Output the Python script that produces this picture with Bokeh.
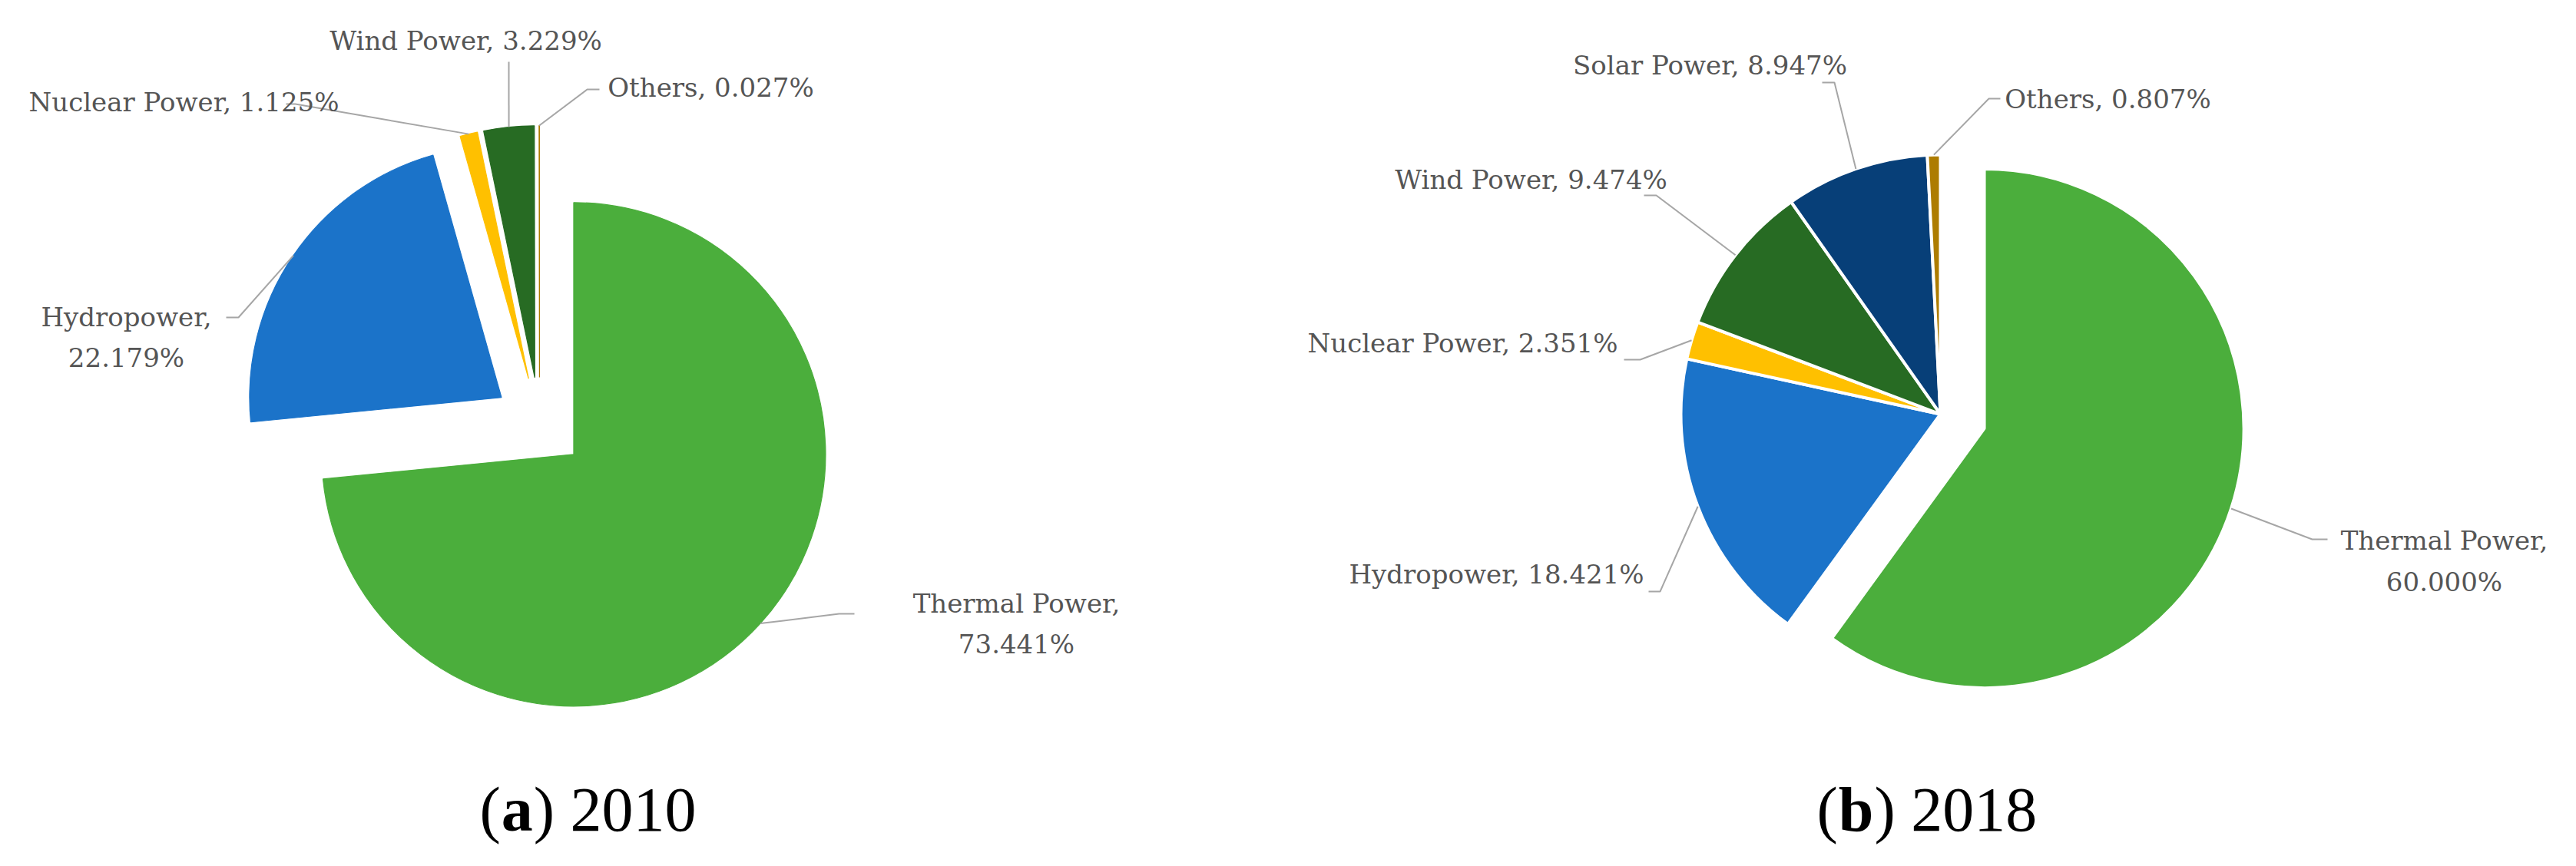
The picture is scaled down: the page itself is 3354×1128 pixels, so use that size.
import math
from bokeh.plotting import figure
from bokeh.models import Range1d, ColumnDataSource
from bokeh.embed import file_html
from bokeh.resources import INLINE
from bokeh.core.properties import value

# ---------------- data ----------------
categories_2010 = ["Thermal Power", "Hydropower", "Nuclear Power", "Wind Power", "Others"]
values_2010 = [73.441, 22.179, 1.125, 3.229, 0.027]

categories_2018 = ["Thermal Power", "Hydropower", "Nuclear Power", "Wind Power", "Solar Power", "Others"]
values_2018 = [60.000, 18.421, 2.351, 9.474, 8.947, 0.807]

caption_letters = ["a", "b"]
caption_years = ["2010", "2018"]

# ---------------- styles ----------------
colors = {
    "Thermal Power": "#4BAE3C",
    "Hydropower": "#1B73C9",
    "Nuclear Power": "#FFC000",
    "Wind Power": "#276B23",
    "Solar Power": "#073F78",
    "Others": "#AD7C00",
}
LABEL_FONT = "DejaVu Serif"
LABEL_SIZE = "34px"
LABEL_COLOR = "#555555"
LEADER_COLOR = "#A6A6A6"
CAP_FONT = "Liberation Serif"
CAP_SIZE = 82

W, H = 3338, 1112
PAGE_H = 1128


def Y(ypix):
    return PAGE_H - ypix


p = figure(width=W, height=H, x_range=Range1d(8, 8 + W), y_range=Range1d(8, 8 + H),
           output_backend="svg", toolbar_location=None, min_border=0,
           x_axis_type=None, y_axis_type=None)
p.xgrid.visible = False
p.ygrid.visible = False
p.outline_line_color = None
p.background_fill_color = "white"

# layout (pixel positions of pies and labels)
pies = [
    dict(cats=categories_2010, vals=values_2010, cx=710, cy=559, r=328,
         explode=[60, 60, 60, 60, 60], border=None,
         labels={
             "Thermal Power": dict(x=1331, ys=[793, 846], leader=[(1120, 807), (1100, 807)]),
             "Hydropower": dict(x=172, ys=[420, 473], leader=[(302, 421), (318, 421)]),
             "Nuclear Power": dict(x=247, ys=[140], leader=[(380, 143), (392, 143)]),
             "Wind Power": dict(x=614, ys=[60], leader=[(670, 88)]),
             "Others": dict(x=933, ys=[121], leader=[(788, 124), (772, 124)]),
         }),
    dict(cats=categories_2018, vals=values_2018, cx=2534, cy=547, r=338,
         explode=[60, 0, 0, 0, 0, 0], border="white",
         labels={
             "Thermal Power": dict(x=3190, ys=[711, 765], leader=[(3038, 710), (3018, 710)]),
             "Hydropower": dict(x=1956, ys=[755], leader=[(2154, 778), (2169, 778)]),
             "Nuclear Power": dict(x=1912, ys=[454], leader=[(2122, 476), (2143, 476)]),
             "Wind Power": dict(x=2001, ys=[241], leader=[(2148, 262), (2164, 262)]),
             "Solar Power": dict(x=2234, ys=[92], leader=[(2380, 115), (2396, 115)]),
             "Others": dict(x=2752, ys=[136], leader=[(2612, 136), (2597, 136)]),
         }),
]

for pie in pies:
    total = sum(pie["vals"])
    cum = 0.0
    xs, ys, sa, ea, fills, lines = [], [], [], [], [], []
    lead_xs, lead_ys = [], []
    tx, ty, tt = [], [], []
    for cat, v, e in zip(pie["cats"], pie["vals"], pie["explode"]):
        f0 = cum / total
        f1 = (cum + v) / total
        cum += v
        start = math.pi / 2 - 2 * math.pi * f1
        end = math.pi / 2 - 2 * math.pi * f0
        mid = (start + end) / 2
        vx = pie["cx"] + e * math.cos(mid)
        vy = Y(pie["cy"]) + e * math.sin(mid)
        xs.append(vx)
        ys.append(vy)
        sa.append(start)
        ea.append(end)
        fills.append(colors[cat])
        lines.append(pie["border"] if pie["border"] else colors[cat])
        # leader line from the arc midpoint of the slice
        ax = vx + pie["r"] * math.cos(mid)
        ay = vy + pie["r"] * math.sin(mid)
        lab = pie["labels"][cat]
        pts = lab["leader"]
        lead_xs.append([pt[0] for pt in pts] + [ax])
        lead_ys.append([Y(pt[1]) for pt in pts] + [ay])
        if len(lab["ys"]) == 2:
            texts = [f"{cat},", f"{v:.3f}%"]
        else:
            texts = [f"{cat}, {v:.3f}%"]
        for t, yy in zip(texts, lab["ys"]):
            tx.append(lab["x"])
            ty.append(Y(yy))
            tt.append(t)

    src = ColumnDataSource(dict(x=xs, y=ys, start=sa, end=ea, fill=fills, line=lines))
    p.wedge(x="x", y="y", radius=pie["r"], start_angle="start", end_angle="end",
            fill_color="fill", line_color="line",
            line_width=4 if pie["border"] else 1.2, source=src)
    p.multi_line(xs=lead_xs, ys=lead_ys, line_color=LEADER_COLOR, line_width=2)
    p.text(x=tx, y=ty, text=tt, text_align="center", text_baseline="alphabetic",
           text_font=value(LABEL_FONT), text_font_size=LABEL_SIZE, text_color=LABEL_COLOR)

# captions: "(a) 2010" with the letter in bold
GAP = 1
cap_layout = [dict(x0=632, y=1062, letter_w=0.5), dict(x0=2373, y=1062, letter_w=0.556)]
for letter, year, lay in zip(caption_letters, caption_years, cap_layout):
    x0 = lay["x0"]
    fs = CAP_SIZE
    cy = Y(lay["y"])
    common = dict(text_align="left", text_baseline="alphabetic", text_font=value(CAP_FONT),
                  text_font_size=f"{fs}px", text_color="black")
    p.text(x=[x0], y=[cy], text=["("], **common)
    p.text(x=[x0 + 0.333 * fs + GAP], y=[cy], text=[letter], text_font_style="bold", **common)
    p.text(x=[x0 + (0.333 + lay["letter_w"]) * fs + 2 * GAP], y=[cy], text=[") " + year], **common)

open("out.html", "w").write(file_html(p, INLINE))
